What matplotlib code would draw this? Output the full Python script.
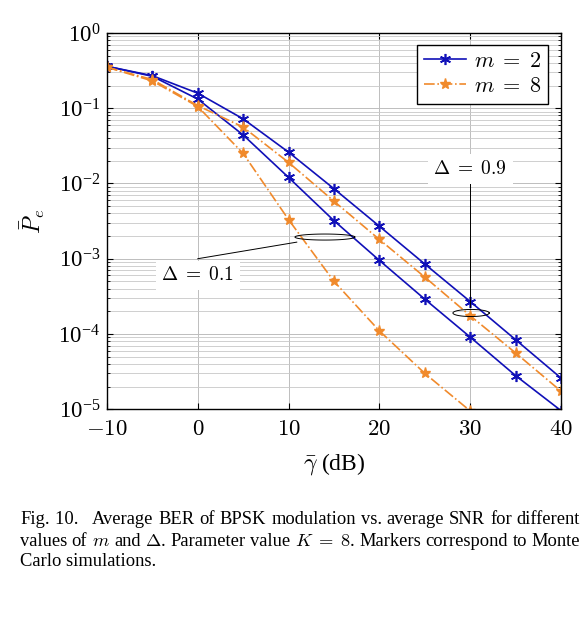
import numpy as np
import matplotlib.pyplot as plt
from matplotlib.ticker import LogLocator, NullFormatter

plt.rcParams['font.family'] = 'Liberation Serif'
plt.rcParams['mathtext.fontset'] = 'cm'

snr_db = [-10, -5, 0, 5, 10, 15, 20, 25, 30, 35, 40]

# m = 2 (blue, solid)
m2_d09 = [0.36, 0.27, 0.158, 0.072, 0.026, 0.0085, 0.0027, 8.5e-4, 2.7e-4, 8.4e-5, 2.6e-5]
m2_d01 = [0.36, 0.265, 0.132, 0.044, 0.012, 0.0032, 9.5e-4, 2.9e-4, 9.1e-5, 2.8e-5, 9.6e-6]

# m = 8 (orange, dash-dot)
snr_db_m8low = [-10, -5, 0, 5, 10, 15, 20, 25, 30]
m8_d09 = [0.35, 0.24, 0.108, 0.056, 0.019, 0.0058, 0.0018, 5.7e-4, 1.75e-4, 5.6e-5, 1.74e-5]
m8_d01 = [0.35, 0.23, 0.105, 0.025, 0.0033, 5.0e-4, 1.1e-4, 3.0e-5, 9.5e-6]

blue = '#1010b8'
orange = '#f08a2c'
asterisk = (6, 2, 0)

fig = plt.figure(figsize=(5.88, 6.21), dpi=100)
ax = fig.add_axes([0.182, 0.341, 0.772, 0.606])

ax.plot(snr_db, m2_d09, color=blue, lw=1.2, marker=asterisk, ms=8, mew=1.2, label=r'$m\;=\;2$')
ax.plot(snr_db, m2_d01, color=blue, lw=1.2, marker=asterisk, ms=8, mew=1.2)
ax.plot(snr_db, m8_d09, color=orange, lw=1.2, ls='-.', marker='*', ms=8, label=r'$m\;=\;8$')
ax.plot(snr_db_m8low, m8_d01, color=orange, lw=1.2, ls='-.', marker='*', ms=8)

ax.set_yscale('log')
ax.set_xlim(-10, 40)
ax.set_ylim(1e-5, 1)
ax.set_xticks([-10, 0, 10, 20, 30, 40])
ax.set_xticklabels(['$-10$', '$0$', '$10$', '$20$', '$30$', '$40$'])
ax.yaxis.set_major_locator(LogLocator(base=10, numticks=10))
ax.yaxis.set_minor_locator(LogLocator(base=10, subs=np.arange(2, 10), numticks=20))
ax.yaxis.set_minor_formatter(NullFormatter())
ax.tick_params(which='both', direction='in', top=True, right=True, labelsize=16.5)
ax.tick_params(axis='x', pad=7)
ax.tick_params(axis='y', pad=5)
ax.tick_params(which='major', length=4)
ax.tick_params(which='minor', length=2.5)
ax.grid(True, which='major', color='#bdbdbd', lw=0.7)
ax.grid(True, which='minor', axis='y', color='#c8c8c8', lw=0.6)
ax.set_axisbelow(True)
for s in ax.spines.values():
    s.set_linewidth(1.0)

ax.set_xlabel(r'$\bar{\gamma}$ (dB)', fontsize=17, labelpad=8)
ax.set_ylabel(r'$\bar{P}_e$', fontsize=17, labelpad=8)


def log_ellipse(cx, cy, a, b):
    # thin ellipse drawn in (dB, log10 P) space
    t = np.linspace(0, 2 * np.pi, 100)
    ax.plot(cx + a * np.cos(t), 10 ** (np.log10(cy) + b * np.sin(t)), color='black', lw=0.7)


# Delta = 0.1 annotation
log_ellipse(14.0, 1.94e-3, 3.3, 0.04)
ax.plot([0.0, 10.9], [1.0e-3, 1.66e-3], color='black', lw=0.7)
ax.text(0.0, 6.0e-4, r'$\Delta\;=\;0.1$', fontsize=14, ha='center', va='center',
        bbox=dict(fc='white', ec='none', pad=4))

# Delta = 0.9 annotation
log_ellipse(30.1, 1.9e-4, 2.0, 0.047)
ax.plot([30, 30], [1.2e-2, 2.3e-4], color='black', lw=0.7)
ax.text(30, 1.55e-2, r'$\Delta\;=\;0.9$', fontsize=14, ha='center', va='center',
        bbox=dict(fc='white', ec='none', pad=4))

leg = ax.legend(loc='upper right', fontsize=16, frameon=True, fancybox=False,
                edgecolor='black', framealpha=1, handlelength=1.9, handletextpad=0.35,
                borderpad=0.3, labelspacing=0.2, borderaxespad=0,
                bbox_to_anchor=(0.972, 0.968))
leg.get_frame().set_linewidth(1.0)

# caption, justified by hand
caption_lines = [
    "Fig. 10.\u2002 Average BER of BPSK modulation vs. average SNR for different",
    r"values of $m$ and $\Delta$. Parameter value $K\;=\;8$. Markers correspond to Monte",
]
caption_last = "Carlo simulations."
cap_left, cap_right = 20, 580
cap_size = 13.3
renderer = fig.canvas.get_renderer()
for k, line in enumerate(caption_lines):
    y = 1 - (520 + 21 * k) / 621
    words = line.split(' ')
    texts = [fig.text(0, y, w, fontsize=cap_size, va='center') for w in words]
    widths = [t.get_window_extent(renderer).width for t in texts]
    gap = (cap_right - cap_left - sum(widths)) / (len(texts) - 1)
    x = cap_left
    for t, w in zip(texts, widths):
        t.set_x(x / 588)
        x += w + gap
fig.text(cap_left / 588, 1 - (520 + 42) / 621, caption_last, fontsize=cap_size, va='center')

fig.savefig('out.png', dpi=100)
